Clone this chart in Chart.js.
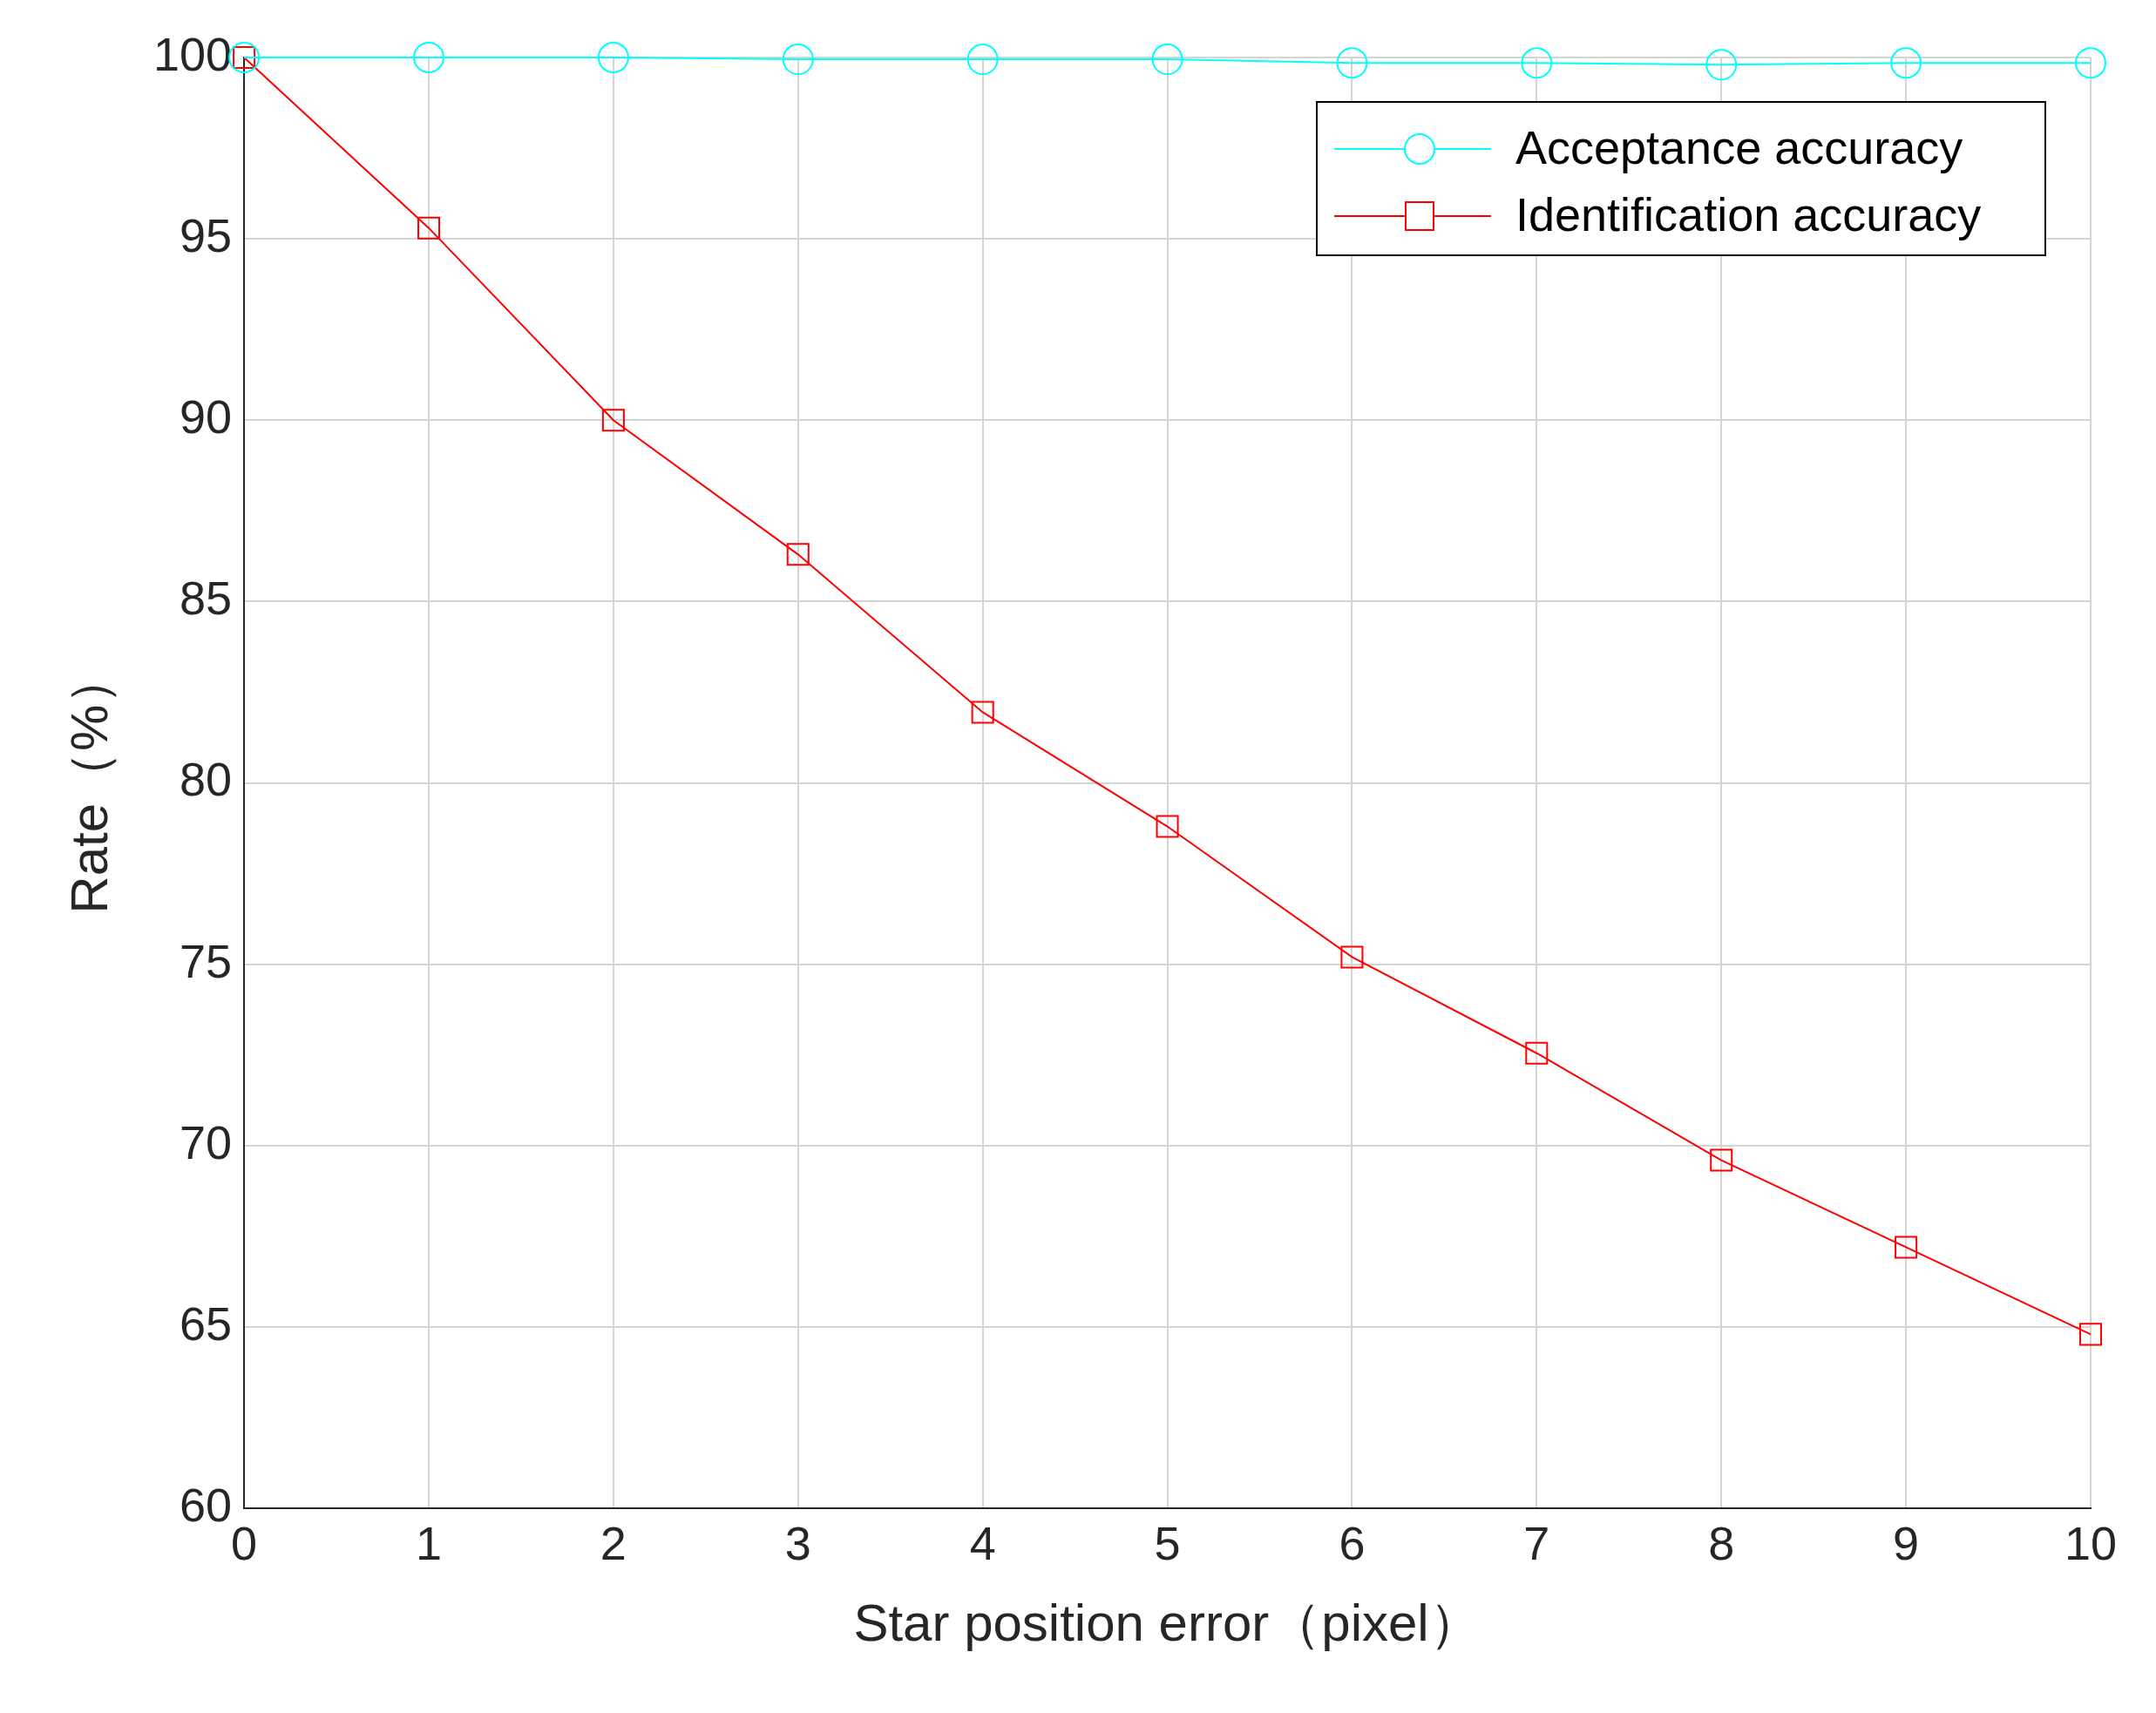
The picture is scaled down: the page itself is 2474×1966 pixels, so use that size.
<!DOCTYPE html>
<html lang="en">
<head>
  <meta charset="UTF-8">
  <title>Rate vs star position error</title>
  <script src="https://cdn.jsdelivr.net/npm/chart.js"></script>
  <style>
    html, body { margin: 0; padding: 0; background: #fff; }
    canvas { display: block; }
  </style>
</head>
<body>
  <canvas id="rateChart" width="2474" height="1966"></canvas>
  <script>
    // data
    const errors = [0, 1, 2, 3, 4, 5, 6, 7, 8, 9, 10];
    const acceptance = [100, 100, 100, 99.95, 99.95, 99.95, 99.85, 99.85, 99.8, 99.85, 99.85];
    const identification = [100, 95.3, 90.0, 86.3, 81.95, 78.8, 75.2, 72.55, 69.6, 67.2, 64.8];
    const seriesNames = ['Acceptance accuracy', 'Identification accuracy'];
    const seriesColors = ['#00ffff', '#ff0000'];
    const seriesMarkers = ['circle', 'rect'];

    const FONT = '"Liberation Sans", Arial, sans-serif';

    // legend box drawn inside the plot area, top right
    const boxLegend = {
      id: 'boxLegend',
      afterDraw(chart) {
        const ctx = chart.ctx;
        const area = chart.chartArea;
        const w = 836, h = 176;
        const x0 = area.right - 52 - w, y0 = area.top + 51;
        ctx.save();
        ctx.fillStyle = '#fff';
        ctx.fillRect(x0, y0, w, h);
        ctx.strokeStyle = '#000';
        ctx.lineWidth = 2;
        ctx.strokeRect(x0, y0, w, h);
        ctx.font = '54px ' + FONT;
        ctx.textBaseline = 'middle';
        seriesNames.forEach((name, i) => {
          const cy = y0 + 54 + i * 77;
          ctx.strokeStyle = seriesColors[i];
          ctx.lineWidth = 2;
          ctx.beginPath();
          ctx.moveTo(x0 + 20, cy);
          ctx.lineTo(x0 + 200, cy);
          ctx.stroke();
          const mx = x0 + 118;
          ctx.beginPath();
          if (seriesMarkers[i] === 'circle') {
            ctx.arc(mx, cy, 17, 0, Math.PI * 2);
          } else {
            ctx.rect(mx - 16, cy - 16, 32, 32);
          }
          ctx.fillStyle = '#fff';
          ctx.fill();
          ctx.stroke();
          ctx.fillStyle = '#000';
          ctx.fillText(name, x0 + 228, cy + 2);
        });
        ctx.restore();
      }
    };

    new Chart(document.getElementById('rateChart').getContext('2d'), {
      type: 'line',
      data: {
        datasets: [
          {
            label: seriesNames[0],
            data: errors.map((x, i) => ({ x: x, y: acceptance[i] })),
            borderColor: seriesColors[0],
            backgroundColor: 'rgba(255,255,255,0)',
            borderWidth: 2,
            pointStyle: seriesMarkers[0],
            pointRadius: 17,
            pointBorderWidth: 2,
            tension: 0
          },
          {
            label: seriesNames[1],
            data: errors.map((x, i) => ({ x: x, y: identification[i] })),
            borderColor: seriesColors[1],
            backgroundColor: 'rgba(255,255,255,0)',
            borderWidth: 2,
            pointStyle: seriesMarkers[1],
            pointRadius: 17,
            pointBorderWidth: 2,
            tension: 0
          }
        ]
      },
      options: {
        responsive: false,
        animation: false,
        devicePixelRatio: 1,
        clip: false,
        layout: { padding: { left: 66, right: 75, top: 66, bottom: 60 } },
        plugins: { legend: { display: false }, tooltip: { enabled: false } },
        scales: {
          x: {
            type: 'linear',
            min: 0, max: 10,
            ticks: { stepSize: 1, color: '#262626', font: { size: 54, family: FONT }, padding: 12 },
            grid: { color: '#d4d4d4', lineWidth: 2, tickLength: 0 },
            border: { color: '#262626', width: 2 },
            title: { display: true, text: 'Star position error（pixel）', color: '#262626',
                     font: { size: 60, family: FONT }, padding: { top: 10 } }
          },
          y: {
            min: 60, max: 100,
            ticks: { stepSize: 5, color: '#262626', font: { size: 54, family: FONT }, padding: 14 },
            grid: { color: '#d4d4d4', lineWidth: 2, tickLength: 0 },
            border: { color: '#262626', width: 2 },
            title: { display: true, text: 'Rate（%）', color: '#262626',
                     font: { size: 60, family: FONT }, padding: { bottom: 20 } }
          }
        }
      },
      plugins: [boxLegend]
    });
  </script>
</body>
</html>
